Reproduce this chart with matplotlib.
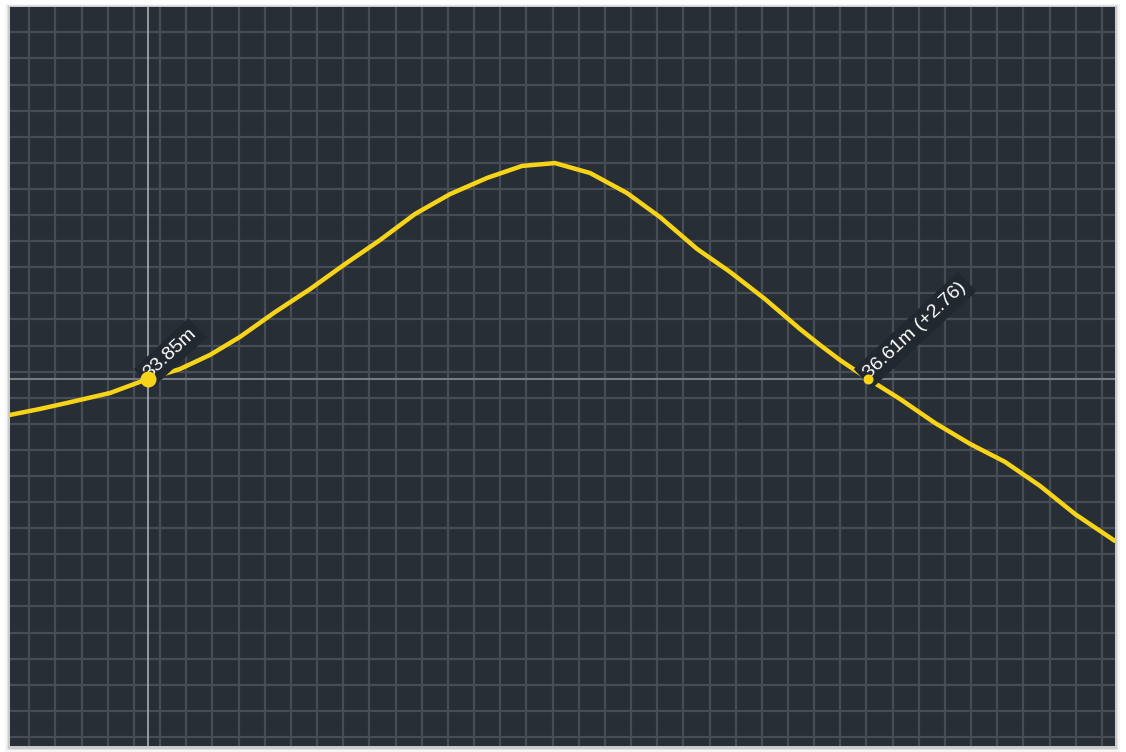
import numpy as np
import matplotlib.pyplot as plt
from matplotlib.ticker import MultipleLocator
from matplotlib.patches import Rectangle

# elevation profile (distance along route, elevation in grid units)
dist = [2.62, 14.09, 24.41, 40.85, 55.37, 67.61, 79.08, 90.54, 103.92, 117.3,
        130.68, 144.06, 157.44, 170.82, 184.96, 198.34, 210.95, 224.33, 238.48,
        251.09, 265.24, 277.85, 291.23, 304.6, 312.25, 319.9, 330.6, 342.83,
        356.21, 369.59, 382.97, 396.36, 409.74, 425.0]
elev = [12.34, 12.57, 12.80, 13.18, 13.72, 14.10, 14.64, 15.33, 16.28, 17.16,
        18.12, 19.04, 20.04, 20.80, 21.42, 21.88, 21.99, 21.61, 20.84,
        19.92, 18.70, 17.82, 16.78, 15.63, 15.02, 14.44, 13.72, 12.95,
        12.03, 11.23, 10.54, 9.62, 8.54, 7.51]

# picked points and their labels
pick_x = [55.37, 330.6]
pick_y = [13.72, 13.72]
pick_lbl = ['33.85m', '36.61m (+2.76)']
pick_size = [16, 10]

bg = '#272e36'
yellow = '#f7d417'

fig = plt.figure(figsize=(11.26, 7.52), dpi=100)
fig.patch.set_facecolor('white')

# soft shadow round the panel
L, B, W, H = 10/1126, 6/752, 1105/1126, 739/752
for i, a in enumerate([0.10, 0.07, 0.04]):
    d = (i + 1) * 1.5
    fig.patches.append(Rectangle((L - d/1126, B - (d + 1)/752), W + 2*d/1126, H + (2*d)/752,
                                 transform=fig.transFigure, fc='black', ec='none',
                                 alpha=a, zorder=-5))

ax = fig.add_axes([L, B, W, H])
ax.set_zorder(2)
ax.set_facecolor(bg)
ax.set_xlim(2.62, 425.0)
ax.set_ylim(-0.345, 27.97)
ax.xaxis.set_major_locator(MultipleLocator(10))
ax.yaxis.set_major_locator(MultipleLocator(1))
ax.grid(True, color='#474d56', lw=1.6)
ax.tick_params(left=False, bottom=False, labelleft=False, labelbottom=False)
for s in ax.spines.values():
    s.set_visible(False)
ax.set_axisbelow(True)

# crosshair
ax.axhline(pick_y[0], color='#767b82', lw=1.5, zorder=2)
ax.axvline(pick_x[0], color='#b4b8bc', lw=1.1, zorder=2)

ax.plot(dist, elev, color=yellow, lw=3.2, solid_capstyle='round', zorder=3)

for x, y, t in zip(pick_x, pick_y, pick_lbl):
    ax.annotate(t, (x, y), xytext=(1, 0), textcoords='offset points',
                rotation=43, rotation_mode='anchor', ha='left', va='baseline',
                color='white', fontsize=14, family='Liberation Sans', zorder=4,
                bbox=dict(boxstyle='square,pad=0.25', fc='#22282f', ec='none'))

for x, y, s in zip(pick_x, pick_y, pick_size):
    ax.plot(x, y, 'o', color=yellow, ms=s * 0.72, mec='none', zorder=5)

fig.savefig('out.png', dpi=100, facecolor='white')
